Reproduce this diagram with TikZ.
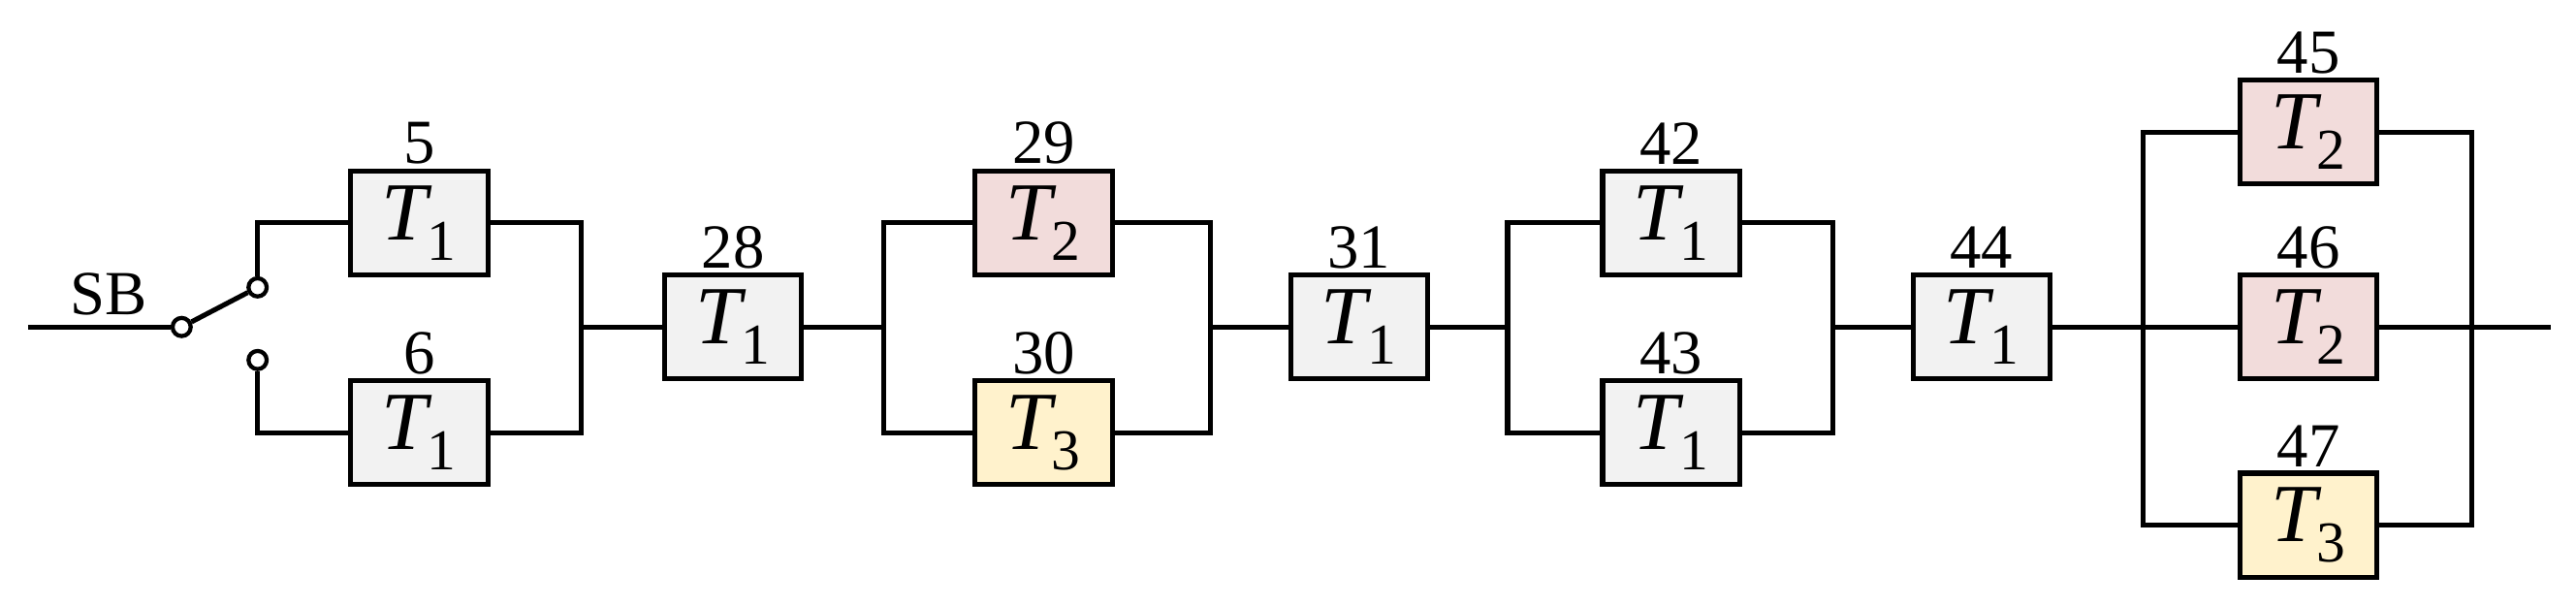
\documentclass[tikz,border=0pt]{standalone}
\usepackage{fontspec}
\setmainfont{Liberation Serif}
\usepackage{unicode-math}
\setmathfont{Latin Modern Math}
\begin{document}
\begin{tikzpicture}[x=1pt,y=-1pt,line width=3pt,
  blk/.style={draw,line width=3pt,minimum width=83pt,minimum height=63pt,inner sep=0pt,font=\fontsize{50}{50}\selectfont},
  g/.style={blk,fill={rgb,255:red,242;green,242;blue,242}},
  p/.style={blk,fill={rgb,255:red,242;green,220;blue,219}},
  yl/.style={blk,fill={rgb,255:red,255;green,242;blue,204}},
  num/.style={font=\fontsize{38}{38}\selectfont,inner sep=1pt,anchor=south},
  ring/.style={circle,draw,line width=2.5pt,minimum size=11pt,inner sep=0pt,fill=white}]
\useasboundingbox (0,0) rectangle (1560,367);
\def\TT#1{$\mathit{T}_{\mathrm{#1}}$}
% switch
\coordinate (in) at (17,198);
\node[ring] (s0) at (110,198) {};
\node[ring] (s1) at (156,174) {};
\node[ring] (s2) at (156,218) {};
\node[font=\fontsize{38}{38}\selectfont] (sb) at (66,178) {SB};
\draw (in) -- (s0.west);
\draw (s0) -- (s1);
% boxes
\node[g] (b5) at (254,135) {\TT1}; \node[num] at (b5.north) {5};
\node[g] (b6) at (254,262) {\TT1}; \node[num] at (b6.north) {6};
\node[g] (b28) at (444,198) {\TT1}; \node[num] at (b28.north) {28};
\node[p] (b29) at (632,135) {\TT2}; \node[num] at (b29.north) {29};
\node[yl] (b30) at (632,262) {\TT3}; \node[num] at (b30.north) {30};
\node[g] (b31) at (823,198) {\TT1}; \node[num] at (b31.north) {31};
\node[g] (b42) at (1012,135) {\TT1}; \node[num] at (b42.north) {42};
\node[g] (b43) at (1012,262) {\TT1}; \node[num] at (b43.north) {43};
\node[g] (b44) at (1200,198) {\TT1}; \node[num] at (b44.north) {44};
\node[p] (b45) at (1398,80) {\TT2}; \node[num] at (b45.north) {45};
\node[p] (b46) at (1398,198) {\TT2}; \node[num] at (b46.north) {46};
\node[yl] (b47) at (1398,318) {\TT3}; \node[num] at (b47.north) {47};
\coordinate (out) at (1545,198);
% wires
\draw (s1.north) |- (b5.west);
\draw (s2.south) |- (b6.west);
\draw (b5.east) -- (352,135) -- (352,262) -- (b6.east);
\draw (352,198) -- (b28.west);
\draw (b28.east) -- (535,198);
\draw (b29.west) -- (535,135) -- (535,262) -- (b30.west);
\draw (b29.east) -- (733,135) -- (733,262) -- (b30.east);
\draw (733,198) -- (b31.west);
\draw (b31.east) -- (913,198);
\draw (b42.west) -- (913,135) -- (913,262) -- (b43.west);
\draw (b42.east) -- (1110,135) -- (1110,262) -- (b43.east);
\draw (1110,198) -- (b44.west);
\draw (b44.east) -- (b46.west);
\draw (b45.west) -- (1298,80) -- (1298,318) -- (b47.west);
\draw (b45.east) -- (1497,80) -- (1497,318) -- (b47.east);
\draw (b46.east) -- (out);
\end{tikzpicture}
\end{document}
